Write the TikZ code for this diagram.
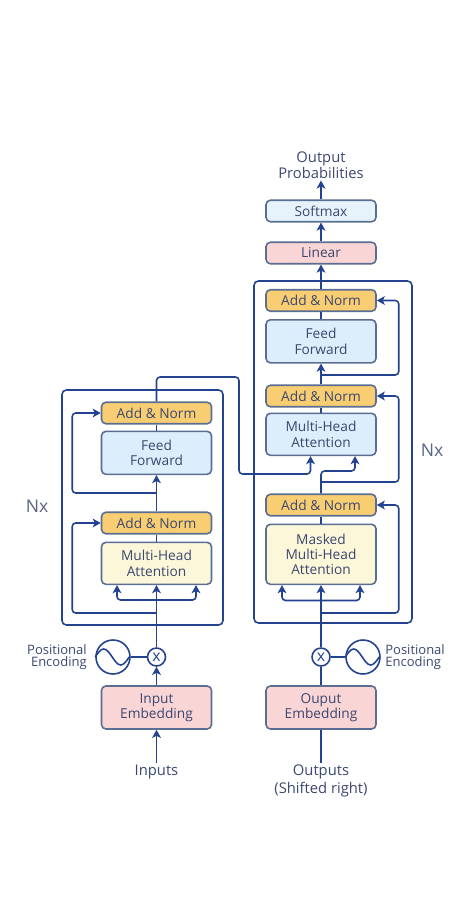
\documentclass[tikz,border=0pt]{standalone}
\usepackage{fontspec}
\setmainfont{Open Sans}
\usepackage{tikz}
\usetikzlibrary{arrows.meta, positioning, calc}
\definecolor{fio}{HTML}{23428F}
\definecolor{tinta}{HTML}{3A4870}
\definecolor{borda}{HTML}{5A6E94}
\definecolor{laranja}{HTML}{F9CD72}
\definecolor{azul}{HTML}{DCEDFB}
\definecolor{creme}{HTML}{FDF7D9}
\definecolor{rosa}{HTML}{F9D5D5}
\definecolor{gelo}{HTML}{E7F3FA}
\tikzset{
    bloco/.style   = {draw=borda, line width=0.9pt, rounded corners=2.5pt, text=tinta,
                      align=center, inner sep=0pt, minimum width=2.2cm,
                      font=\fontsize{7.8}{8.6}\selectfont},
    addnorm/.style = {bloco, fill=laranja, minimum height=0.43cm},
    feed/.style    = {bloco, fill=azul, minimum height=0.86cm},
    att/.style     = {bloco, fill=creme, minimum height=0.84cm},
    emb/.style     = {bloco, fill=rosa, minimum height=0.86cm},
    rotulo/.style  = {text=tinta, align=center, inner sep=1pt,
                      font=\fontsize{8.4}{9}\selectfont},
    postxt/.style  = {text=tinta, inner sep=0pt, font=\fontsize{7.4}{7}\selectfont},
    nx/.style      = {text=tinta!85, font=\fontsize{10}{11}\selectfont},
    mult/.style    = {circle, draw=fio, line width=0.9pt, fill=white, inner sep=0pt,
                      minimum size=0.36cm, text=fio, font=\fontsize{9}{9}\selectfont},
    onda/.style    = {circle, draw=fio, line width=0.9pt, minimum size=0.68cm, inner sep=0pt},
    wire/.style    = {draw=fio, line width=0.9pt, rounded corners=2pt},
    arr/.style     = {wire, -{Stealth[length=4.6pt, width=5pt, inset=1.2pt]}},
    frame/.style   = {draw=fio, line width=0.9pt, rounded corners=2.5pt},
}

\begin{document}
\begin{tikzpicture}[x=0.02cm, y=-0.02cm]
    \useasboundingbox (0,0) rectangle (474,902);
    % N x blocks
    \draw[frame] (62,390) rectangle (223,625);
    \draw[frame] (254,281) rectangle (412,623);
    \node[nx] (enx) at (37,506) {Nx};
    \node[nx] (dnx) at (432,450) {Nx};

    % encoder
    \node[emb] (encemb) at (156.5,707.5) {Input\\Embedding};
    \node[rotulo] (inp) at (156.5,772) {Inputs};
    \node[mult] (encx) at (156.5,657) {x};
    \node[onda] (epe) at (113,657) {};
    \node[postxt, anchor=east, align=right] (eptx) at (87,657) {Positional\\Encoding};
    \node[addnorm] (encan1) at (156.5,523) {Add \& Norm};
    \node[att, below=0.14cm of encan1] (encatt) {Multi-Head\\Attention};
    \node[addnorm] (encan2) at (156.5,413) {Add \& Norm};
    \node[feed, below=0.12cm of encan2] (encff) {Feed\\Forward};

    % decoder
    \node[emb] (decemb) at (321,707.5) {Ouput\\Embedding};
    \node[rotulo, font=\fontsize{8.4}{9.9}\selectfont] (outp) at (321,781) {Outputs\\(Shifted right)};
    \node[mult] (decx) at (321,657) {x};
    \node[onda] (dpe) at (363,657) {};
    \node[postxt, anchor=west, align=left] (dptx) at (385,657) {Positional\\Encoding};
    \node[addnorm] (decan1) at (321,505) {Add \& Norm};
    \node[att, below=0.14cm of decan1, minimum height=1.2cm] (decmatt) {Masked\\Multi-Head\\Attention};
    \node[addnorm] (decan2) at (321,396) {Add \& Norm};
    \node[feed, below=0.1cm of decan2, minimum height=0.84cm] (decatt) {Multi-Head\\Attention};
    \node[addnorm] (decan3) at (321,300.5) {Add \& Norm};
    \node[feed, below=0.14cm of decan3] (decff) {Feed\\Forward};
    \node[emb, minimum height=0.43cm] (lin) at (321,253) {Linear};
    \node[bloco, fill=gelo, minimum height=0.43cm] (soft) at (321,211) {Softmax};
    \node[rotulo] (prob) at (321,165) {Output\\Probabilities};

    % positional encoding waves
    \draw[fio, line width=0.9pt] (epe.west) sin ++(8.5,-8) cos ++(8.5,8) sin ++(8.5,8) cos ++(8.5,-8);
    \draw[fio, line width=0.9pt] (dpe.west) sin ++(8.5,-8) cos ++(8.5,8) sin ++(8.5,8) cos ++(8.5,-8);
    \draw[wire] (epe) -- (encx);
    \draw[wire] (decx) -- (dpe);

    % encoder wiring
    \coordinate (ebr) at (156.5,600);
    \coordinate (er1) at (156.5,613);
    \coordinate (er2) at (156.5,493);
    \draw[arr] (inp) -- (encemb);
    \draw[arr] (encemb) -- (encx);
    \draw[arr] (encx) -- (encatt);
    \draw[arr] (ebr) -| ($(encatt.south)+(-39.5,0)$);
    \draw[arr] (ebr) -| ($(encatt.south)+(39.5,0)$);
    \draw[arr] (er1) -| ($(encan1.west)+(-28.5,0)$) -- (encan1.west);
    \draw[wire] (encatt) -- (encan1);
    \draw[arr] (encan1) -- (encff);
    \draw[arr] (er2) -| ($(encan2.west)+(-28.5,0)$) -- (encan2.west);
    \draw[wire] (encff) -- (encan2);
    \coordinate (c1) at (239,377);
    \coordinate (c2) at (239,474);
    \draw[arr] (encan2.north) |- (c1) -- (c2) -| ($(decatt.south)+(-10.5,0)$);

    % decoder wiring
    \coordinate (dbr) at (321,600.5);
    \coordinate (dr1) at (321,613);
    \coordinate (dq) at (321,471);
    \coordinate (dr2) at (321,482);
    \coordinate (dr3) at (321,375);
    \draw[wire] (outp) -- (decemb);
    \draw[wire] (decemb) -- (decx);
    \draw[arr] (decx) -- (decmatt);
    \draw[arr] (dbr) -| ($(decmatt.south)+(-39,0)$);
    \draw[arr] (dbr) -| ($(decmatt.south)+(39,0)$);
    \draw[arr] (dr1) -| ($(decan1.east)+(22,0)$) -- (decan1.east);
    \draw[wire] (decmatt) -- (decan1);
    \draw[arr] (decan1.north) -- (dq) -| ($(decatt.south)+(34,0)$);
    \draw[arr] (dr2) -| ($(decan2.east)+(22,0)$) -- (decan2.east);
    \draw[wire] (decatt) -- (decan2);
    \draw[arr] (decan2) -- (decff);
    \draw[arr] (dr3) -| ($(decan3.east)+(22,0)$) -- (decan3.east);
    \draw[wire] (decff) -- (decan3);
    \draw[arr] (decan3) -- (lin);
    \draw[arr] (lin) -- (soft);
    \draw[arr] (soft) -- (prob);
\end{tikzpicture}
\end{document}
